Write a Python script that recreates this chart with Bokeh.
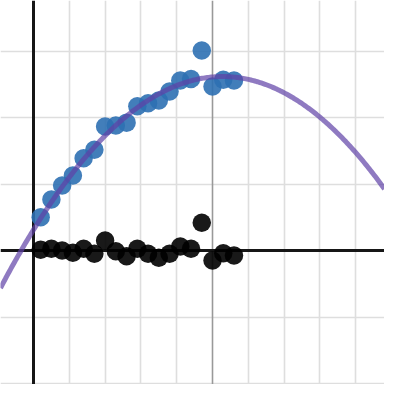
import numpy as np
from bokeh.plotting import figure
from bokeh.models import Grid, FixedTicker
from bokeh.embed import file_html
from bokeh.resources import INLINE

# Data
x_vals = [0.2, 0.5, 0.8, 1.1, 1.4, 1.7, 2.0, 2.3, 2.6, 2.9, 3.2, 3.5, 3.8, 4.1, 4.4, 4.7, 5.0, 5.3, 5.6]
y_vals = [0.508, 0.774, 0.985, 1.135, 1.395, 1.522, 1.872, 1.887, 1.93, 2.176,
          2.222, 2.263, 2.398, 2.564, 2.586, 3.015, 2.474, 2.574, 2.564]
residuals = [0.018, 0.033, 0.008, -0.027, 0.033, -0.042, 0.158, -0.003, -0.078, 0.033,
             -0.042, -0.102, -0.042, 0.068, 0.033, 0.424, -0.143, -0.033, -0.068]
# quadratic regression y = a x^2 + b x + c (coefficients)
fit_coef = [-0.08265, 0.8729, 0.3187]

minor_x = [-1, 1, 2, 3, 4, 6, 7, 8, 9, 11]
major_x = [-5, 5, 10]
minor_y = [-3, -2, -1, 1, 2, 3]

X0, X1 = -0.922, 9.804
Y0, Y1 = -2.008, 3.767

p = figure(width=384, height=384, x_range=(X0, X1), y_range=(Y0, Y1),
           x_axis_type=None, y_axis_type=None, output_backend="svg",
           toolbar_location=None, min_border=0, outline_line_color=None,
           background_fill_color="white")

p.add_layout(Grid(dimension=0, ticker=FixedTicker(ticks=minor_x),
                  grid_line_color="#dedede", grid_line_width=1.6))
p.add_layout(Grid(dimension=1, ticker=FixedTicker(ticks=minor_y),
                  grid_line_color="#dedede", grid_line_width=1.6))
p.add_layout(Grid(dimension=0, ticker=FixedTicker(ticks=major_x),
                  grid_line_color="#999999", grid_line_width=1.6))

# axes lines
p.vspan(x=[0], line_color="#161616", line_width=3)
p.hspan(y=[0], line_color="#161616", line_width=3)

p.scatter(x_vals, y_vals, size=18.5, fill_color="#2d70b3", fill_alpha=0.9, line_color=None)

xs = np.linspace(X0, X1, 300)
ys = np.polyval(fit_coef, xs)
p.line(xs, ys, line_color="#6042a6", line_alpha=0.7, line_width=5)

p.scatter(x_vals, residuals, size=18.5, fill_color="#000000", fill_alpha=0.9, line_color=None)

open("out.html", "w").write(file_html(p, INLINE))
